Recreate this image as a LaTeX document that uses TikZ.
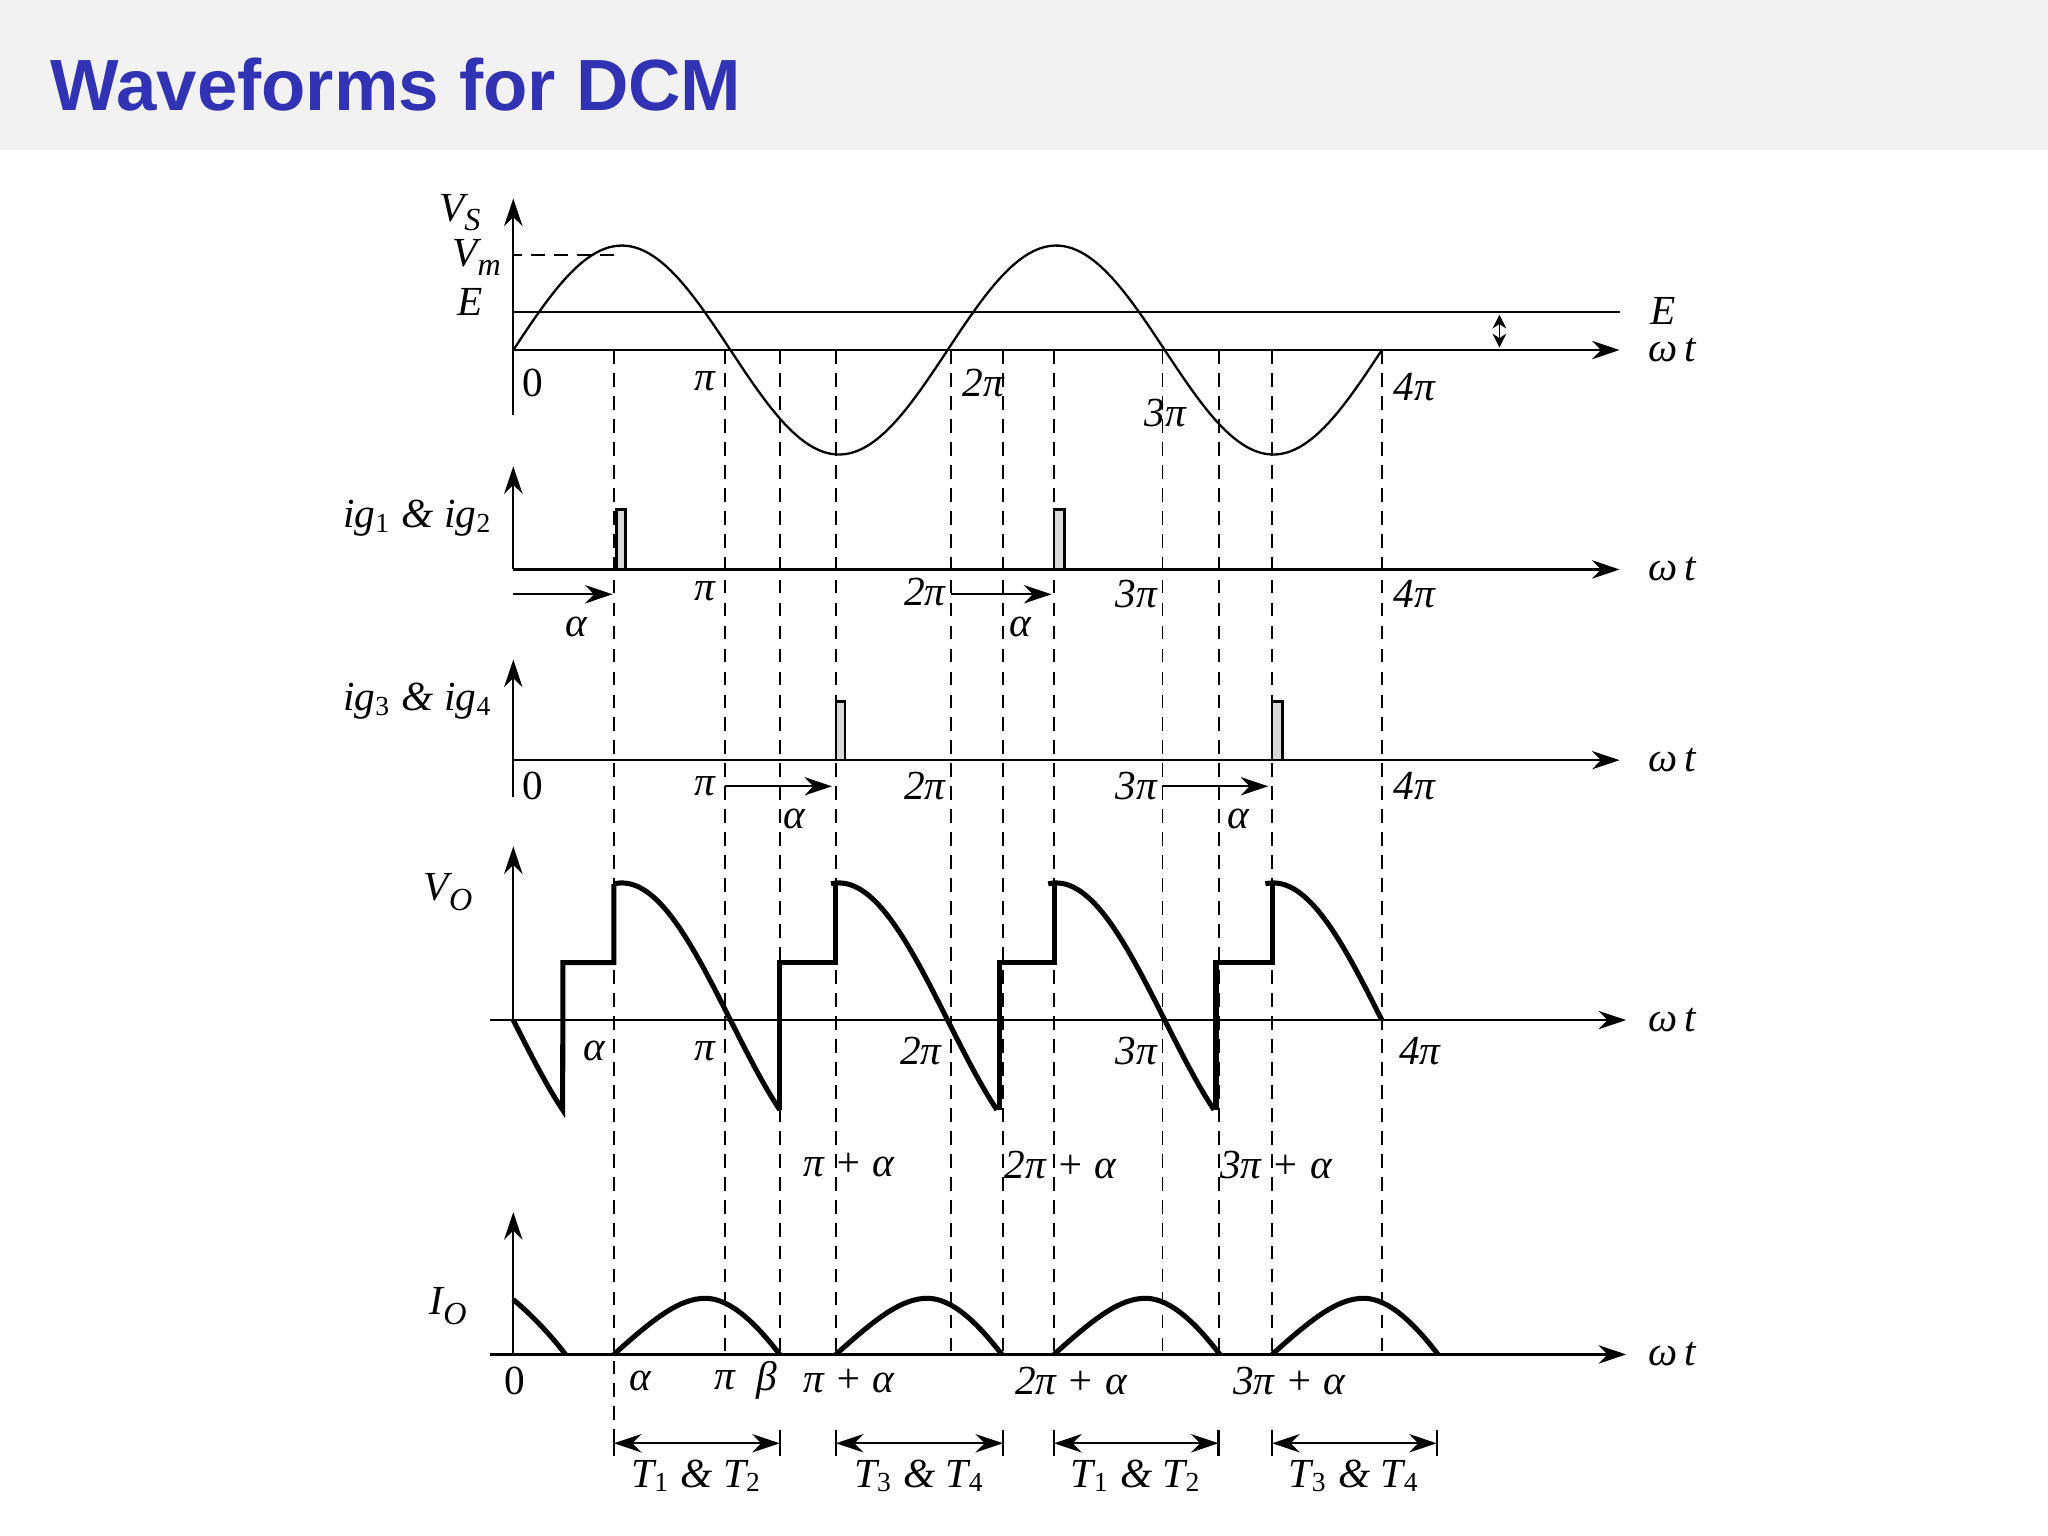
\documentclass[tikz,border=0pt]{standalone}
\usepackage{fontspec}
\setmainfont{Liberation Serif}
\newfontfamily\titlefont{Liberation Sans}
\usetikzlibrary{arrows.meta}
\definecolor{ttl}{RGB}{50,50,180}
\begin{document}
\begin{tikzpicture}[x=0.01cm,y=-0.01cm,
  lbl/.style={font=\fontsize{9}{11}\selectfont\itshape,inner sep=0pt},
  num/.style={font=\fontsize{9}{11}\selectfont,inner sep=0pt},
  ax/.style={line width=0.5pt,-{Stealth[length=6pt,width=4pt]}},
  dsh/.style={dashed,line width=0.4pt,dash pattern=on 3pt off 2pt},
  wave/.style={line width=1.1pt},
  pulse/.style={draw,fill=gray!30,line width=0.5pt},
  darr/.style={line width=0.5pt,-{Stealth[length=6pt,width=4pt]}}]
\useasboundingbox (0,0) rectangle (1568,1176);
\fill[white] (0,0) rectangle (1568,1176);
\fill[black!5] (0,0) rectangle (1568,115);
\node[anchor=west,inner sep=0pt,text=ttl,font=\titlefont\bfseries\fontsize{15.8}{18}\selectfont] (title) at (38,65) {Waveforms for DCM};

% dashed verticals
\foreach \x in {555,597,640,728,768,807,890,933,974,1058}
  \draw[dsh] (\x,268) -- (\x,1037);
\draw[dsh] (470,268) -- (470,1115);
\draw[dsh] (470,195) -- (393,195);

% panel 1
\draw[ax] (393,318) -- (393,152);
\draw[ax] (393,268) -- (1240,268);
\draw[line width=0.5pt] (393,239) -- (1240,239);
\draw[line width=0.5pt] plot[domain=0:720,samples=200] ({393+\x/180*166.25},{268-80*sin(\x)});
\draw[line width=0.4pt,{Stealth[length=3pt,width=3pt]}-{Stealth[length=3pt,width=3pt]}] (1148,241) -- (1148,266);
\node[lbl] (vs) at (352,163) {V\raisebox{-2pt}{\scriptsize S}};
\node[lbl] (vm) at (365,197) {V\raisebox{-2pt}{\scriptsize m}};
\node[lbl] (e1) at (360,231) {E};
\node[num] (z1) at (408,293) {0};
\node[lbl] (p1) at (540,292) {π};
\node[lbl] (p2) at (753,293) {2π};
\node[lbl] (p3) at (892,316) {3π};
\node[lbl] (p4) at (1083,296) {4π};
\node[lbl] (e2) at (1273,238) {E};
\node[lbl] (w1) at (1280,268) {ω\,t};

% panel 2
\draw[ax] (393,436) -- (393,357);
\draw[ax] (393,436) -- (1240,436);
\draw[pulse] (472,390) rectangle (479,436);
\draw[pulse] (807,390) rectangle (815,436);
\node[lbl] (ig12) at (320,397) {ig\textsubscript{\upshape 1} \& ig\textsubscript{\upshape 2}};
\node[lbl] (q1) at (540,453) {π};
\node[lbl] (q2) at (708,453) {2π};
\node[lbl] (q3) at (870,455) {3π};
\node[lbl] (q4) at (1083,455) {4π};
\node[lbl] (w2) at (1280,436) {ω\,t};
\draw[darr] (393,455) -- (469,455);
\draw[darr] (728,455) -- (805,455);
\node[lbl] (a1) at (441,480) {α};
\node[lbl] (a2) at (781,480) {α};

% panel 3
\draw[ax] (393,610) -- (393,505);
\draw[ax] (393,582) -- (1240,582);
\draw[pulse] (640,537) rectangle (647,582);
\draw[pulse] (974,537) rectangle (982,582);
\node[lbl] (ig34) at (320,537) {ig\textsubscript{\upshape 3} \& ig\textsubscript{\upshape 4}};
\node[num] (z3) at (408,602) {0};
\node[lbl] (r1) at (540,602) {π};
\node[lbl] (r2) at (708,602) {2π};
\node[lbl] (r3) at (870,602) {3π};
\node[lbl] (r4) at (1083,602) {4π};
\node[lbl] (w3) at (1280,582) {ω\,t};
\draw[darr] (555,602) -- (637,602);
\draw[darr] (890,602) -- (971,602);
\node[lbl] (a3) at (608,627) {α};
\node[lbl] (a4) at (948,627) {α};

% panel 4
\draw[ax] (393,781) -- (393,648);
\draw[ax] (375,781) -- (1245,781);
\draw[wave] plot[domain=180:220.9,samples=30] ({393+(\x-180)/180*166.25},{781-105*sin(\x)}) -- (431,737) -- (470,737) -- (470,677);
\foreach \k in {0,1,2}{
  \draw[wave] plot[domain=83.4:220.9,samples=60] ({393+(\x+\k*180)/180*166.25},{781-105*sin(\x)});
}
\draw[wave] plot[domain=83.4:180,samples=50] ({393+(\x+540)/180*166.25},{781-105*sin(\x)});
\foreach \a/\b in {597/640,765/807,931/974}{
  \draw[wave] (\a,850) -- (\a,737) -- (\b,737) -- (\b,677);
}
\node[lbl] (vo) at (343,683) {V\raisebox{-2pt}{\scriptsize O}};
\node[lbl] (s0) at (455,805) {α};
\node[lbl] (s1) at (540,805) {π};
\node[lbl] (s2) at (705,805) {2π};
\node[lbl] (s3) at (870,805) {3π};
\node[lbl] (s4) at (1087,805) {4π};
\node[lbl] (t1) at (650,892) {π + α};
\node[lbl] (t2) at (812,892) {2π + α};
\node[lbl] (t3) at (977,892) {3π + α};
\node[lbl] (w4) at (1280,781) {ω\,t};

% panel 5
\draw[ax] (393,1037) -- (393,928);
\draw[ax] (375,1037) -- (1245,1037);
\draw[wave] (393,995) .. controls (405,1005) and (420,1020) .. (433,1037);
\foreach \o in {0,170,337,504}{
  \draw[wave] (470+\o,1037) .. controls (500+\o,1010) and (520+\o,994) .. (540+\o,994) .. controls (560+\o,994) and (580+\o,1015) .. (597+\o,1037);
}
\node[lbl] (io) at (343,1000) {I\raisebox{-2pt}{\scriptsize O}};
\node[num] (z5) at (394,1057) {0};
\node[lbl] (u1) at (490,1057) {α};
\node[lbl] (u2) at (555,1057) {π};
\node[lbl] (u3) at (587,1057) {β};
\node[lbl] (u4) at (650,1057) {π + α};
\node[lbl] (u5) at (820,1057) {2π + α};
\node[lbl] (u6) at (987,1057) {3π + α};
\node[lbl] (w5) at (1280,1037) {ω\,t};

% conduction intervals
\foreach \a/\b/\i/\j in {470/597/1/2,640/768/3/4,807/933/1/2,974/1100/3/4}{
  \draw[line width=0.5pt] (\a,1095) -- (\a,1115);
  \draw[line width=0.5pt] (\b,1095) -- (\b,1115);
  \draw[line width=0.5pt,{Stealth[length=6pt,width=4pt]}-{Stealth[length=6pt,width=4pt]}] (\a,1105) -- (\b,1105);
  \node[lbl] at ({(\a+\b)/2},1130) {T\textsubscript{\upshape\i} \& T\textsubscript{\upshape\j}};
}
\end{tikzpicture}
\end{document}
